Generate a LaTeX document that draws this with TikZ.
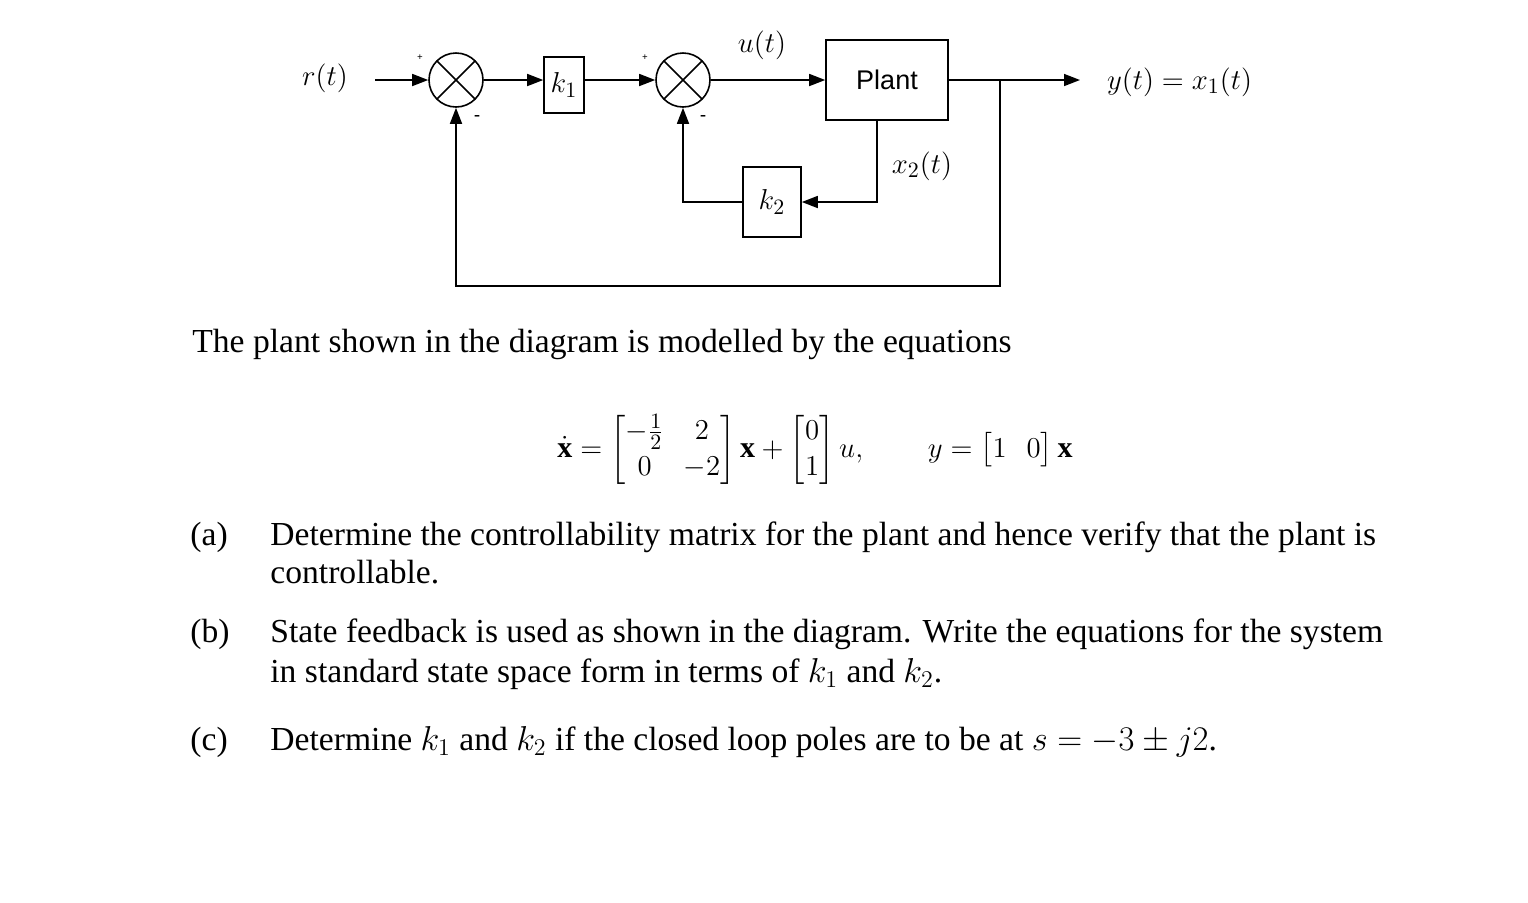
\documentclass[tikz,border=0pt]{standalone}
\usepackage{amsmath}
\usepackage{fontspec}
\setmainfont{Liberation Serif}
\newfontfamily\arialf{Liberation Sans}
\usetikzlibrary{arrows.meta}
\begin{document}
\begin{tikzpicture}[x=0.5pt,y=-0.5pt,
  summ/.style={draw,thick,circle,minimum size=27pt,inner sep=0pt,path picture={\draw[thick] (path picture bounding box.north west)--(path picture bounding box.south east) (path picture bounding box.north east)--(path picture bounding box.south west);}},
  sig/.style={thick,-{Triangle[length=8pt,width=6pt]}},
  lbl/.style={font=\fontsize{15}{18}\selectfont},
  txt/.style={font=\fontsize{16.8}{20}\selectfont,anchor=base west,align=left,inner sep=0pt}]
\useasboundingbox (0,0) rectangle (1528,902);
\node[lbl] (r) at (325,78) {$r(t)$};
\node[summ] (s1) at (456,80) {};
\node[draw,thick,minimum width=16pt,minimum height=28pt,lbl] (k1) at (564,85) {$k_1$};
\node[summ] (s2) at (683,80) {};
\node[draw,thick,minimum width=61pt,minimum height=40pt,font=\arialf\fontsize{13.5}{16}\selectfont] (p) at (887,80) {Plant};
\node[draw,thick,minimum width=29pt,minimum height=35pt,lbl] (k2) at (772,202) {$k_2$};
\node[lbl] (u) at (762,45) {$u(t)$};
\node[lbl] (x2) at (922,166) {$x_2(t)$};
\node[lbl,anchor=west] (y) at (1100,82) {$y(t)=x_1(t)$};
\coordinate (rs) at (375,80);
\coordinate (ye) at (1080,80);
\coordinate (br) at (1000,80);
\coordinate (pb) at (877,120);
\draw[sig] (rs) -- (s1.west);
\draw[sig] (s1.east) -- (k1.west |- s1.east);
\draw[sig] (k1.east |- s2.west) -- (s2.west);
\draw[sig] (s2.east) -- (p.west);
\draw[sig] (p.east) -- (ye);
\draw[sig] (br) -- ++(0,206) -| (s1.south);
\draw[sig] (pb) |- (k2.east);
\draw[sig] (k2.west) -| (s2.south);
\node[font=\tiny\bfseries] at (420,58) {+};
\node[font=\tiny\bfseries] at (645,58) {+};
\node[font=\small\bfseries] at (477,118) {-};
\node[font=\small\bfseries] at (703,118) {-};
\node[txt] (t1) at (192,352) {The plant shown in the diagram is modelled by the equations};
\node[font=\fontsize{15}{18}\selectfont] (eq) at (815,450) {$\dot{\mathbf{x}}=\begin{bmatrix}-\tfrac12 & 2\\ 0 & -2\end{bmatrix}\mathbf{x}+\begin{bmatrix}0\\1\end{bmatrix}u,\qquad y=\begin{bmatrix}1 & 0\end{bmatrix}\mathbf{x}$};
\node[txt] (la) at (190,545) {(a)};
\node[txt] (ta) at (270,545) {Determine the controllability matrix for the plant and hence verify that the plant is};
\node[txt] (ta2) at (270,583) {controllable.};
\node[txt] (lb) at (190,642) {(b)};
\node[txt] (tb) at (270,642) {State feedback is used as shown in the diagram. Write the equations for the system};
\node[txt] (tb2) at (270,682) {in standard state space form in terms of $k_1$ and $k_2$.};
\node[txt] (lc) at (190,750) {(c)};
\node[txt] (tc) at (270,750) {Determine $k_1$ and $k_2$ if the closed loop poles are to be at $s=-3\pm j2$.};
\end{tikzpicture}
\end{document}
